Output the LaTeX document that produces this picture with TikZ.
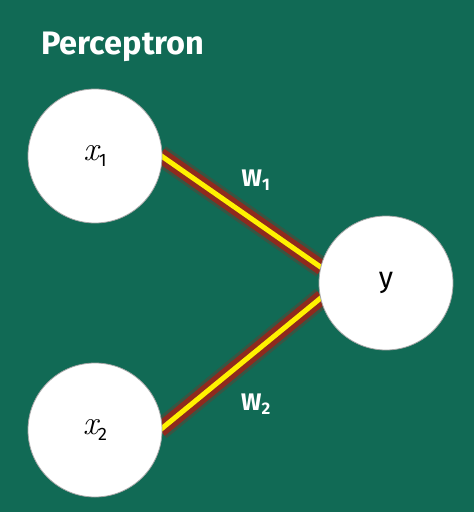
\documentclass[tikz,border=0pt]{standalone}
\usepackage{fontspec}
\setsansfont{Fira Sans}
\definecolor{bg}{HTML}{116A55}
\definecolor{glow}{HTML}{8E2A1E}
\definecolor{core}{HTML}{FFF200}
\newcommand{\xsub}[1]{{\itshape x}\raisebox{-6pt}{\sffamily\fontsize{18}{20}\selectfont #1}}
\tikzset{
  neuron/.style={circle, fill=white, draw=gray!70, line width=0.8pt, minimum size=134pt, inner sep=0pt},
  glowline/.style={line width=15pt, draw=glow, line cap=butt},
  softline/.style={line width=21pt, draw=glow, draw opacity=0.3, line cap=butt},
  coreline/.style={line width=5pt, draw=core, line cap=butt},
  wlabel/.style={text=white, font=\sffamily\bfseries\fontsize{24}{28}\selectfont, inner sep=0pt}
}
\begin{document}
\begin{tikzpicture}[x=1pt, y=-1pt]
\fill[bg] (0,0) rectangle (474,512);
\useasboundingbox (0,0) rectangle (474,512);
\node[text=white, font=\sffamily\bfseries\fontsize{32.5}{38}\selectfont, anchor=west, inner sep=0pt] (title) at (41,47) {Perceptron};
\coordinate (a1) at (160,155);
\coordinate (b1) at (322,268);
\coordinate (a2) at (160,430);
\coordinate (b2) at (322,297);
\draw[softline] (a1) -- (b1);
\draw[softline] (a2) -- (b2);
\draw[glowline] (a1) -- (b1);
\draw[glowline] (a2) -- (b2);
\draw[coreline] (a1) -- (b1);
\draw[coreline] (a2) -- (b2);
\node[neuron] (x1) at (95,156) {\fontsize{34}{38}\selectfont\xsub{1}};
\node[neuron] (x2) at (95,430) {\fontsize{34}{38}\selectfont\xsub{2}};
\node[neuron] (y) at (386,283) {\sffamily\fontsize{29}{32}\selectfont y};
\node[wlabel] (w1) at (256,180) {W\textsubscript{1}};
\node[wlabel] (w2) at (256,404) {W\textsubscript{2}};
\end{tikzpicture}
\end{document}
